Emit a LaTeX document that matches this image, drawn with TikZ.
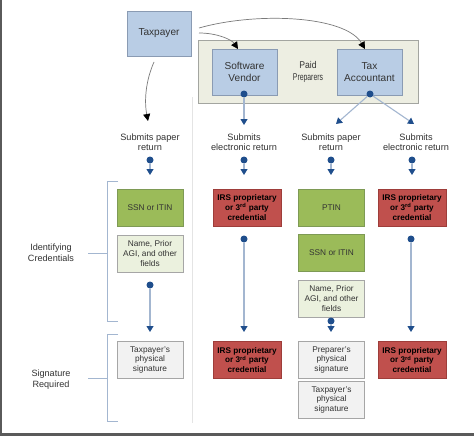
\documentclass[tikz,border=0pt]{standalone}
\usepackage{fontspec}
\setmainfont{Liberation Sans}
\usetikzlibrary{arrows.meta}
\definecolor{boxblue}{HTML}{B9CDE5}
\definecolor{boxblueline}{HTML}{8A9BB3}
\definecolor{ppfill}{HTML}{EDEEE2}
\definecolor{ppline}{HTML}{A3A5A0}
\definecolor{grnfill}{HTML}{9BBB59}
\definecolor{grnline}{HTML}{7E9A55}
\definecolor{ltgrn}{HTML}{EBF1DE}
\definecolor{redfill}{HTML}{C0504D}
\definecolor{redline}{HTML}{9E3D3A}
\definecolor{ltgray}{HTML}{F2F2F2}
\definecolor{grayline}{HTML}{A6A6A6}
\definecolor{lineblue}{HTML}{A3B6D0}
\definecolor{dotblue}{HTML}{1F4E8C}
\definecolor{txt}{HTML}{333333}
\definecolor{divider}{HTML}{E4E4E4}
\definecolor{frame}{HTML}{5A5A5A}
\definecolor{curve}{HTML}{7A7A7A}
\tikzset{
  base/.style={align=center, inner sep=0pt, text=txt},
  bluebox/.style={base, draw=boxblueline, fill=boxblue, line width=0.8pt,
    minimum width=65pt, minimum height=46pt, font=\fontsize{10.1}{11.3}\selectfont},
  smallbox/.style={base, line width=0.8pt, minimum width=66pt, minimum height=37pt,
    font=\fontsize{8.3}{9.7}\selectfont},
  grnbox/.style={smallbox, draw=grnline, fill=grnfill},
  ltgrnbox/.style={smallbox, draw=grayline, fill=ltgrn},
  redbox/.style={smallbox, draw=redline, fill=redfill, minimum width=68pt, text=black,
    font=\fontsize{8.2}{9.7}\selectfont\bfseries},
  graybox/.style={smallbox, draw=grayline, fill=ltgray},
  lbl/.style={base, font=\fontsize{9.2}{10.5}\selectfont},
  sidelbl/.style={base, font=\fontsize{9.1}{11}\selectfont},
  dot/.style={circle, fill=dotblue, inner sep=0pt, minimum size=7pt},
  conn/.style={draw=lineblue, line width=1.1pt, -{Triangle[width=7pt,length=6pt,color=dotblue]}},
  curvearr/.style={draw=curve, line width=0.7pt, -{Triangle[width=7pt,length=7pt,color=black]}},
  brk/.style={draw=lineblue, line width=0.9pt},
}
\newcommand{\rdcred}{IRS proprietary\\or 3\textsuperscript{rd} party\\credential}
\begin{document}
\begin{tikzpicture}[x=1pt,y=-1pt]
\useasboundingbox (0,0) rectangle (474,436);
\fill[white] (0,0) rectangle (474,436);
% frame edges
\fill[frame] (0,0) rectangle (2,436);
\fill[frame] (0,433) rectangle (474,436);
% divider
\draw[divider, line width=0.8pt] (192,97) -- (192,423);

% top boxes
\node[bluebox, minimum width=64pt, minimum height=45pt] (tp) at (159,33.5) {Taxpayer};
\node[draw=ppline, fill=ppfill, line width=0.8pt, minimum width=220pt, minimum height=63pt, inner sep=0pt] (pp) at (308,71.5) {};
\node[bluebox] (sv) at (244.5,72) {Software\\Vendor};
\node[bluebox] (ta) at (369.5,72) {Tax\\Accountant};
\node[base, font=\fontsize{9.8}{11.3}\selectfont] (ppl) at (308,72) {\scalebox{0.88}[1]{Paid}\\\scalebox{0.7}[1]{Preparers}};

% curves from taxpayer
\coordinate (c1s) at (199,28);
\coordinate (c1e) at (365,49);
\coordinate (c2s) at (199,33);
\coordinate (c2e) at (238,49);
\coordinate (c3s) at (154,62);
\coordinate (c3e) at (148,121);
\draw[curvearr] (c1s) .. controls (255,12) and (345,15) .. (c1e);
\draw[curvearr] (c2s) .. controls (218,33) and (232,40) .. (c2e);
\draw[curvearr] (c3s) .. controls (146,80) and (144,100) .. (c3e);

% top dots and arrows
\node[dot] (svd) at (244,94) {};
\node[dot] (tad) at (370,94) {};
\coordinate (sva) at (244,125);
\coordinate (taa1) at (336,124);
\coordinate (taa2) at (414,124);
\draw[conn] (svd) -- (sva);
\draw[conn] (tad) -- (taa1);
\draw[conn] (tad) -- (taa2);

% submit labels
\node[lbl] (s1) at (150,142) {Submits paper\\return};
\node[lbl] (s2) at (244,142) {Submits\\electronic return};
\node[lbl] (s3) at (331,142) {Submits paper\\return};
\node[lbl] (s4) at (416,142) {Submits\\electronic return};

% dots under labels
\foreach \n/\x in {1/150,2/244,3/331,4/412}{
  \node[dot] (u\n) at (\x,160) {};
  \coordinate (ua\n) at (\x,175);
  \draw[conn] (u\n) -- (ua\n);
}

% column 1
\node[grnbox] (a1) at (150,207.5) {SSN or ITIN};
\node[ltgrnbox] (a2) at (150,253.5) {Name, Prior\\AGI, and other\\fields};
\node[dot] (a1d) at (150,285) {};
\coordinate (a1a) at (150,332);
\draw[conn] (a1d) -- (a1a);
\node[graybox] (a3) at (150,360) {Taxpayer's\\physical\\signature};

% column 2
\node[redbox] (b1) at (247,207.5) {\rdcred};
\node[dot] (b1d) at (244,239) {};
\coordinate (b1a) at (244,332);
\draw[conn] (b1d) -- (b1a);
\node[redbox] (b2) at (247,360) {\rdcred};

% column 3
\node[grnbox] (c1) at (331.5,207.5) {PTIN};
\node[grnbox] (c2) at (331.5,253) {SSN or ITIN};
\node[ltgrnbox] (c3) at (331.5,298.5) {Name, Prior\\AGI, and other\\fields};
\node[dot] (c3d) at (331,321) {};
\coordinate (c3a) at (331,332);
\draw[conn] (c3d) -- (c3a);
\node[graybox] (c4) at (331.5,360) {Preparer's\\physical\\signature};
\node[graybox] (c5) at (331.5,400) {Taxpayer's\\physical\\signature};

% column 4
\node[redbox] (d1) at (412,207.5) {\rdcred};
\node[dot] (d1d) at (411,239) {};
\coordinate (d1a) at (411,332);
\draw[conn] (d1d) -- (d1a);
\node[redbox] (d2) at (412,360) {\rdcred};

% brackets
\coordinate (b1t) at (118,181);
\coordinate (b1b) at (118,321);
\draw[brk] (b1t) -- (107,181) -- (107,321) -- (b1b);
\coordinate (b1m) at (88,253);
\draw[brk] (b1m) -- (107,253);
\node[sidelbl] (idc) at (51,253) {Identifying\\Credentials};

\coordinate (b2t) at (118,334);
\coordinate (b2b) at (118,421);
\draw[brk] (b2t) -- (107,334) -- (107,421) -- (b2b);
\coordinate (b2m) at (88,378);
\draw[brk] (b2m) -- (107,378);
\node[sidelbl] (sig) at (51,380) {Signature\\Required};
\end{tikzpicture}
\end{document}
